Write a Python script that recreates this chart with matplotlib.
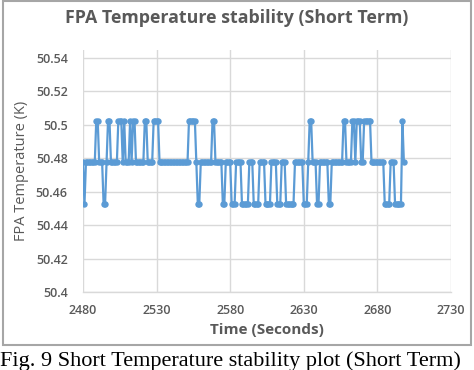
import matplotlib
matplotlib.use('Agg')
import matplotlib.pyplot as plt
from matplotlib.patches import Rectangle

# Temperature levels (K)
H, M, L = 50.5025, 50.4775, 50.4525

start_time = 2480  # seconds, one sample per second
temperature = [
    M, L, M, M, M, M, M, M, M, H,   # 2480
    H, M, M, M, L, L, M, H, H, M,   # 2490
    M, M, M, M, H, H, H, M, H, M,   # 2500
    M, M, H, M, H, H, M, M, M, M,   # 2510
    M, M, H, H, M, M, M, M, H, H,   # 2520
    H, H, M, M, M, M, M, M, M, M,   # 2530
    M, M, M, M, M, M, M, M, M, M,   # 2540
    M, M, H, H, H, H, H, M, L, L,   # 2550
    M, M, M, M, M, M, M, M, H, H,   # 2560
    M, M, M, M, M, L, L, M, M, M,   # 2570
    M, L, L, L, M, M, M, M, L, L,   # 2580
    L, L, L, M, M, M, L, L, L, L,   # 2590
    M, M, M, M, L, L, L, L, M, M,   # 2600
    M, M, L, L, L, M, M, M, L, L,   # 2610
    L, L, L, L, M, M, M, M, M, M,   # 2620
    L, L, L, M, H, H, M, M, M, L,   # 2630
    L, M, M, M, M, M, M, L, L, M,   # 2640
    M, M, M, M, M, M, M, H, H, M,   # 2650
    M, M, M, H, H, M, H, H, H, M,   # 2660
    M, H, H, H, H, H, M, M, M, M,   # 2670
    M, M, M, M, M, L, L, L, L, M,   # 2680
    M, M, L, L, L, L, L, H, M,      # 2690
]
time_s = list(range(start_time, start_time + len(temperature)))

x_ticks = [2480, 2530, 2580, 2630, 2680, 2730]
y_ticks = [50.4, 50.42, 50.44, 50.46, 50.48, 50.5, 50.52, 50.54]
y_tick_labels = ['50.4', '50.42', '50.44', '50.46', '50.48', '50.5', '50.52', '50.54']

title = 'FPA Temperature stability (Short Term)'
x_label = 'Time (Seconds)'
y_label = 'FPA Temperature (K)'
caption = 'Fig. 9 Short Temperature stability plot (Short Term)'

text_color = '#595959'
grid_color = '#d9d9d9'
line_color = '#5b9bd5'

fig = plt.figure(figsize=(4.74, 3.70), dpi=100)
ax = fig.add_axes([83 / 474, 78 / 370, (451 - 83) / 474, (292 - 50) / 370])

ax.plot(time_s, temperature, color=line_color, lw=1.6, marker='o', ms=3.6,
        markerfacecolor=line_color, markeredgecolor=line_color, zorder=3)

ax.set_xlim(2480, 2730)
ax.set_ylim(50.4, 50.5448)
ax.set_xticks(x_ticks)
ax.set_xticklabels([str(t) for t in x_ticks])
ax.set_yticks(y_ticks)
ax.set_yticklabels(y_tick_labels)

ax.grid(True, color=grid_color, lw=1.0, zorder=0)
ax.set_axisbelow(True)
for side in ['left', 'right', 'top']:
    ax.spines[side].set_visible(False)
ax.spines['bottom'].set_color(grid_color)
ax.spines['bottom'].set_linewidth(1.0)
ax.tick_params(length=0, colors=text_color, labelsize=9)
ax.tick_params(axis='x', pad=9)
ax.tick_params(axis='y', pad=11)
for lab in ax.get_xticklabels() + ax.get_yticklabels():
    lab.set_fontfamily('Open Sans')
    lab.set_fontweight('semibold')

ax.set_xlabel(x_label, fontsize=11, color=text_color, fontfamily='Open Sans',
              fontweight='bold', labelpad=4)
ax.set_ylabel(y_label, fontsize=10.5, color=text_color, fontfamily='Open Sans',
              labelpad=5)

fig.text(0.5, (370 - 18) / 370, title, ha='center', va='center', fontsize=12.8,
         color=text_color, fontfamily='Open Sans', fontweight='bold')

fig.patches.append(Rectangle((3 / 474, 25 / 370), 468 / 474, 344 / 370,
                             transform=fig.transFigure, fill=False,
                             edgecolor='#a6a6a6', lw=1.5))

fig.text(0.0, 4 / 370, caption, ha='left', va='baseline', fontsize=16,
         color='black', fontfamily='Liberation Serif')

fig.savefig('out.png', dpi=100)
